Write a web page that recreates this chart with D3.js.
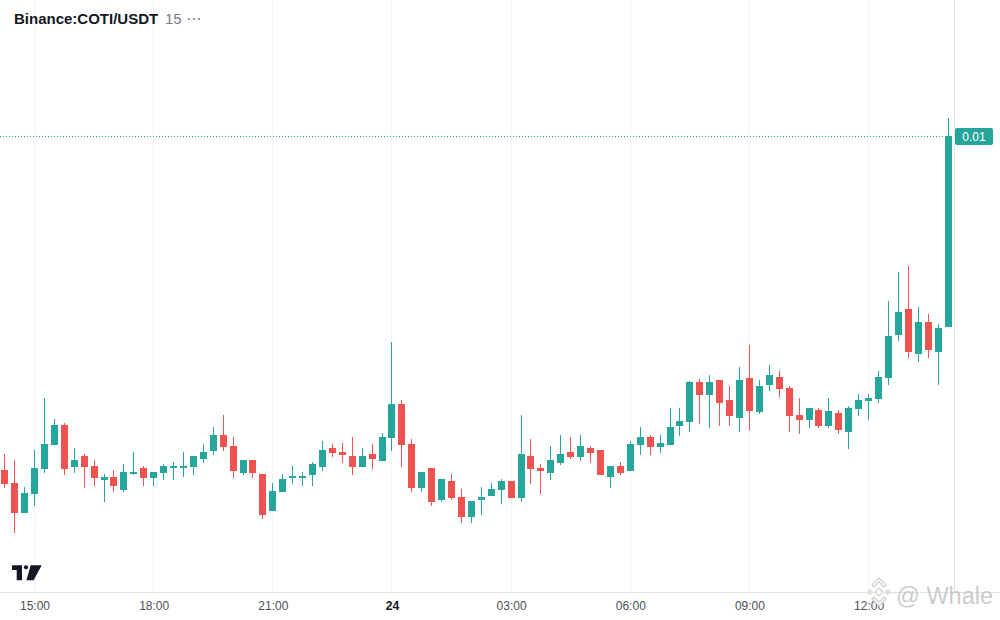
<!DOCTYPE html>
<html lang="en">
<head>
  <meta charset="UTF-8">
  <script src="https://d3js.org/d3.v7.min.js"></script>
  <title>Binance:COTI/USDT 15</title>
  <style>
  body {
      margin: 0;
      background: #fff;
  }
  svg {
      display: block;
      font-family: "Liberation Sans", Arial, sans-serif;
  }
  .xAxis .tick text {
      font-size: 12px;
      fill: #4c5059;
  }
  .xAxis .tick text.day {
      font-weight: bold;
      fill: #131722;
  }
  .grid line {
      stroke: #f0f3fa;
  }
  </style>
</head>
<body>

<svg id="chart" width="1000" height="620"></svg>

<script>
  // 15 minute bars, first bar 14:15 on the 23rd
  const symbol = "Binance:COTI/USDT";
  const interval = "15";
  const firstBar = new Date(2024, 10, 23, 14, 15);

  const open = [0.009666,0.009653,0.009623,0.009642,0.009667,0.009691,0.009711,0.009669,0.009680,0.009670,
    0.009656,0.009659,0.009646,0.009663,0.009668,0.009658,0.009663,0.009669,0.009669,0.009669,
    0.009677,0.009685,0.009701,0.009690,0.009663,0.009676,0.009662,0.009625,0.009644,0.009658,
    0.009658,0.009661,0.009669,0.009688,0.009684,0.009680,0.009669,0.009682,0.009675,0.009698,
    0.009732,0.009692,0.009648,0.009668,0.009636,0.009655,0.009639,0.009619,0.009636,0.009640,
    0.009646,0.009655,0.009638,0.009680,0.009668,0.009663,0.009673,0.009684,0.009679,0.009688,
    0.009686,0.009659,0.009670,0.009665,0.009691,0.009699,0.009689,0.009691,0.009710,0.009714,
    0.009754,0.009741,0.009756,0.009736,0.009718,0.009758,0.009724,0.009751,0.009759,0.009748,
    0.009721,0.009716,0.009726,0.009710,0.009723,0.009704,0.009727,0.009735,0.009737,0.009758,
    0.009801,0.009827,0.009782,0.009814,0.009784,0.009809];
  const high = [0.009682,0.009676,0.009649,0.009686,0.009738,0.009717,0.009713,0.009688,0.009682,0.009676,
    0.009662,0.009666,0.009672,0.009684,0.009670,0.009664,0.009672,0.009674,0.009684,0.009680,
    0.009692,0.009709,0.009721,0.009699,0.009676,0.009676,0.009662,0.009653,0.009662,0.009670,
    0.009664,0.009674,0.009695,0.009692,0.009693,0.009699,0.009688,0.009692,0.009703,0.009794,
    0.009736,0.009697,0.009664,0.009668,0.009657,0.009662,0.009647,0.009635,0.009649,0.009653,
    0.009657,0.009655,0.009721,0.009697,0.009672,0.009690,0.009701,0.009699,0.009701,0.009690,
    0.009686,0.009670,0.009674,0.009695,0.009709,0.009701,0.009701,0.009728,0.009728,0.009755,
    0.009757,0.009761,0.009756,0.009750,0.009769,0.009791,0.009756,0.009771,0.009765,0.009750,
    0.009738,0.009728,0.009728,0.009738,0.009726,0.009730,0.009742,0.009742,0.009765,0.009835,
    0.009864,0.009870,0.009829,0.009822,0.009812,0.010018];
  const low = [0.009648,0.009603,0.009623,0.009630,0.009663,0.009691,0.009661,0.009663,0.009648,0.009650,
    0.009634,0.009644,0.009644,0.009661,0.009650,0.009650,0.009656,0.009656,0.009659,0.009661,
    0.009673,0.009681,0.009685,0.009658,0.009661,0.009658,0.009617,0.009625,0.009644,0.009652,
    0.009650,0.009650,0.009665,0.009679,0.009673,0.009661,0.009669,0.009667,0.009675,0.009685,
    0.009669,0.009644,0.009644,0.009630,0.009634,0.009636,0.009613,0.009613,0.009621,0.009640,
    0.009632,0.009638,0.009634,0.009652,0.009642,0.009656,0.009671,0.009677,0.009675,0.009673,
    0.009661,0.009648,0.009661,0.009665,0.009681,0.009681,0.009683,0.009691,0.009700,0.009704,
    0.009712,0.009708,0.009710,0.009710,0.009704,0.009706,0.009722,0.009745,0.009739,0.009704,
    0.009702,0.009708,0.009708,0.009708,0.009702,0.009687,0.009720,0.009716,0.009733,0.009751,
    0.009795,0.009778,0.009774,0.009778,0.009751,0.009809];
  const close = [0.009652,0.009623,0.009643,0.009668,0.009692,0.009711,0.009667,0.009676,0.009669,0.009658,
    0.009659,0.009650,0.009664,0.009664,0.009658,0.009664,0.009670,0.009670,0.009670,0.009680,
    0.009684,0.009701,0.009689,0.009665,0.009676,0.009663,0.009621,0.009645,0.009657,0.009660,
    0.009660,0.009672,0.009686,0.009683,0.009681,0.009669,0.009680,0.009677,0.009699,0.009732,
    0.009691,0.009648,0.009664,0.009634,0.009657,0.009638,0.009619,0.009635,0.009639,0.009647,
    0.009655,0.009638,0.009682,0.009667,0.009665,0.009676,0.009682,0.009679,0.009690,0.009683,
    0.009661,0.009670,0.009663,0.009692,0.009699,0.009689,0.009693,0.009709,0.009715,0.009754,
    0.009741,0.009754,0.009733,0.009720,0.009756,0.009725,0.009750,0.009761,0.009747,0.009720,
    0.009716,0.009728,0.009710,0.009725,0.009706,0.009728,0.009736,0.009738,0.009759,0.009800,
    0.009824,0.009784,0.009814,0.009786,0.009808,0.010000];

  const upColor = "#26a69a";
  const downColor = "#ef5350";

  const svg = d3.select("svg#chart");
  const width = +svg.attr("width");
  const height = +svg.attr("height");
  const pane = {left: 0, right: 954, top: 0, bottom: 592};
  const barSpacing = 9.93;
  const firstX = 4.2;
  const bodyWidth = 7;

  let bars = open.map((o, i) => ({
    t: d3.timeMinute.offset(firstBar, 15 * i),
    o: o, h: high[i], l: low[i], c: close[i]
  }));
  const lastBar = bars[bars.length - 1];

  const xScale = d3.scaleTime()
      .domain([firstBar, lastBar.t])
      .range([firstX, firstX + (bars.length - 1) * barSpacing]);
  const yScale = d3.scaleLinear()
      .domain([0.0096, 0.0100])
      .range([536, 136]);

  // grid
  const ticks = d3.timeHour.every(3)
      .range(firstBar, d3.timeHour.offset(lastBar.t, 4))
      .filter(d => xScale(d) > pane.left && xScale(d) < pane.right);

  svg.append("g").attr("class", "grid")
    .selectAll("line")
    .data(ticks)
    .join("line")
      .attr("x1", d => Math.round(xScale(d)) + 0.5)
      .attr("x2", d => Math.round(xScale(d)) + 0.5)
      .attr("y1", pane.top)
      .attr("y2", pane.bottom);

  // pane borders
  svg.append("line")
      .attr("x1", pane.right + 0.5).attr("x2", pane.right + 0.5)
      .attr("y1", pane.top).attr("y2", pane.bottom)
      .attr("stroke", "#e0e3eb");
  svg.append("line")
      .attr("x1", 0).attr("x2", width)
      .attr("y1", pane.bottom + 0.5).attr("y2", pane.bottom + 0.5)
      .attr("stroke", "#e0e3eb");

  // last price line
  const lastY = Math.round(yScale(lastBar.c)) + 0.5;
  svg.append("line")
      .attr("x1", pane.left).attr("x2", pane.right)
      .attr("y1", lastY).attr("y2", lastY)
      .attr("stroke", upColor)
      .attr("stroke-dasharray", "1,2");

  // candles
  const candles = svg.append("g").attr("id", "candles")
      .attr("shape-rendering", "crispEdges")
    .selectAll("g")
    .data(bars)
    .join("g")
      .attr("fill", d => d.c >= d.o ? upColor : downColor);

  candles.append("rect")
      .attr("x", d => Math.round(xScale(d.t)))
      .attr("width", 1)
      .attr("y", d => Math.round(yScale(d.h)))
      .attr("height", d => Math.max(1, Math.round(yScale(d.l)) - Math.round(yScale(d.h))));

  candles.append("rect")
      .attr("x", d => Math.round(xScale(d.t)) - (bodyWidth - 1) / 2)
      .attr("width", bodyWidth)
      .attr("y", d => Math.round(yScale(Math.max(d.o, d.c))))
      .attr("height", d => Math.max(2, Math.round(yScale(Math.min(d.o, d.c))) - Math.round(yScale(Math.max(d.o, d.c)))));

  // price label on the scale
  const priceLabel = svg.append("g")
      .attr("transform", `translate(${pane.right + 1},${lastY})`);
  priceLabel.append("rect")
      .attr("x", 0).attr("y", -8.5)
      .attr("width", 38).attr("height", 17)
      .attr("rx", 2)
      .attr("fill", upColor);
  priceLabel.append("text")
      .attr("x", 19).attr("y", 4.5)
      .attr("text-anchor", "middle")
      .attr("font-size", "12px")
      .attr("fill", "#fff")
      .text(d3.format(".2f")(lastBar.c));

  // time axis
  const fmtDay = d3.timeFormat("%-d");
  const fmtTime = d3.timeFormat("%H:%M");
  const xAxis = d3.axisBottom(xScale)
      .tickValues(ticks)
      .tickSize(0)
      .tickPadding(9.5)
      .tickFormat(d => d.getHours() === 0 ? fmtDay(d) : fmtTime(d));

  const xAxisG = svg.append("g")
      .attr("class", "xAxis")
      .attr("transform", `translate(0.5,${pane.bottom})`)
      .call(xAxis);
  xAxisG.select(".domain").remove();
  xAxisG.selectAll(".tick text")
      .attr("font-family", null)
      .classed("day", d => d.getHours() === 0);

  // legend
  const legend = svg.append("g").attr("transform", "translate(14,24)");
  legend.append("text")
      .attr("font-size", "15px")
      .attr("font-weight", "bold")
      .attr("fill", "#131722")
      .text(symbol);
  legend.append("text")
      .attr("x", 151)
      .attr("font-size", "15px")
      .attr("fill", "#787b86")
      .text(interval);
  legend.selectAll("circle")
      .data([0, 1, 2])
      .join("circle")
      .attr("cx", d => 175 + d * 5)
      .attr("cy", -5)
      .attr("r", 1)
      .attr("fill", "#787b86");

  // tradingview logo
  const logo = svg.append("g").attr("fill", "#131722");
  logo.append("path").attr("d", "M12,565.3H22V580.3H16.7V570H12Z");
  logo.append("circle").attr("cx", 26).attr("cy", 567.3).attr("r", 2.1);
  logo.append("path").attr("d", "M30.7,565.3H41.7L33.6,580.3H26.4Z");

  // watermark
  const mark = svg.append("g")
      .attr("transform", "translate(879,592) scale(14)")
      .attr("fill", "#fff")
      .attr("stroke", "#cfcfcf")
      .attr("stroke-width", 0.09)
      .attr("stroke-linejoin", "round");
  mark.append("path").attr("d", "M0,-1L0.5,-0.5L0.36,-0.36L0,-0.72L-0.36,-0.36L-0.5,-0.5Z");
  mark.append("path").attr("d", "M0,1L0.5,0.5L0.36,0.36L0,0.72L-0.36,0.36L-0.5,0.5Z");
  mark.append("path").attr("d", "M0,-0.28L0.28,0L0,0.28L-0.28,0Z");
  mark.append("path").attr("d", "M-0.64,-0.14L-0.5,0L-0.64,0.14L-0.78,0Z");
  mark.append("path").attr("d", "M0.64,-0.14L0.78,0L0.64,0.14L0.5,0Z");

  svg.append("text")
      .attr("x", 896)
      .attr("y", 604)
      .attr("font-size", "23.5px")
      .attr("fill", "#c4c4c4")
      .attr("fill-opacity", 0.9)
      .text("@ Whale");
</script>

</body>
</html>
